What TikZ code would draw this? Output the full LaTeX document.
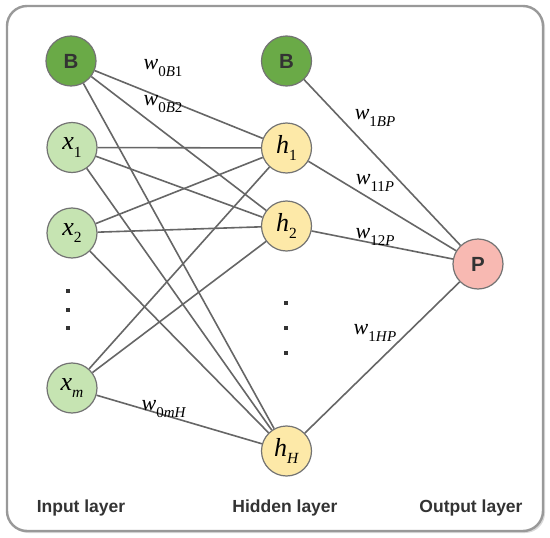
\documentclass[tikz,border=0pt]{standalone}
\usepackage{fontspec}
\setsansfont{Liberation Sans}
\newfontfamily\tms{Liberation Serif}
\newcommand\nlab[2]{{\tms\fontsize{26}{30}\selectfont\itshape #1\/\raisebox{-0.3em}{\upshape\fontsize{15.5}{18}\selectfont #2}}}
\newcommand\wl[1]{{\tms\fontsize{22}{26}\selectfont\itshape w\/\raisebox{-0.28em}{\upshape\fontsize{15}{18}\selectfont #1}}}
\newcommand\iB{\textit{B}}
\newcommand\iP{\textit{P}}
\newcommand\iH{\textit{H}}
\begin{document}
\begin{tikzpicture}[x=1pt,y=-1pt,
  neuron/.style={circle,minimum size=50pt,inner sep=0pt,draw=black!55,line width=1.2pt},
  biasn/.style={neuron,fill=biasgreen,font=\sffamily\bfseries\fontsize{20.5}{24}\selectfont,text=black!80},
  inn/.style={neuron,fill=ingreen},
  hidn/.style={neuron,fill=hidyellow},
  outn/.style={neuron,fill=outpink,font=\sffamily\bfseries\fontsize{20.5}{24}\selectfont,text=black!80},
  conn/.style={draw=black!60,line width=1.6pt},
  wlab/.style={inner sep=0pt},
  layerlab/.style={font=\sffamily\bfseries\fontsize{17.5}{20}\selectfont,text=black!80},
  dotm/.style={fill=black!80,minimum size=4pt,inner sep=0pt}
]
\definecolor{biasgreen}{HTML}{6AAA47}
\definecolor{ingreen}{HTML}{C6E4B2}
\definecolor{hidyellow}{HTML}{FDE9A8}
\definecolor{outpink}{HTML}{F8B9B2}
\useasboundingbox (0,0) rectangle (550,538);
\fill[black!15,rounded corners=20pt] (8.5,7.5) rectangle (545,533);
\draw[black!40,line width=2.4pt,fill=white,rounded corners=20pt] (7,6) rectangle (543,531);

\node[biasn] (b0) at (71,61) {B};
\node[inn] (x1) at (72,147.5) {\nlab{x}{1}};
\node[inn] (x2) at (72,233) {\nlab{x}{2}};
\node[inn] (xm) at (72,388) {\nlab{x}{\textit{m}}};
\node[biasn] (b1) at (286.5,61) {B};
\node[hidn] (h1) at (286.5,148) {\nlab{h}{1}};
\node[hidn] (h2) at (286.5,226) {\nlab{h}{2}};
\node[hidn] (hH) at (286.5,451) {\nlab{h}{\textit{H}}};
\node[outn] (P) at (478,264) {P};

\foreach \s in {b0,x1,x2,xm}{
  \foreach \t in {h1,h2,hH}{
    \draw[conn] (\s) -- (\t);
  }
}
\foreach \s in {b1,h1,h2,hH}{
  \draw[conn] (\s) -- (P);
}

\node[wlab] (l1) at (163,68) {\wl{0\iB1}};
\node[wlab] (l2) at (163,104) {\wl{0\iB2}};
\node[wlab] (l3) at (375,118) {\wl{1\iB\iP}};
\node[wlab] (l4) at (375,183) {\wl{11\iP}};
\node[wlab] (l5) at (375,237) {\wl{12\iP}};
\node[wlab] (l6) at (375,333) {\wl{1\iH\iP}};
\node[wlab] (l7) at (164,409) {\wl{0\textit{m}\iH}};

\node[dotm] (d1) at (68,291) {};
\node[dotm] (d2) at (68,310) {};
\node[dotm] (d3) at (68,328) {};
\node[dotm] (d4) at (286,303) {};
\node[dotm] (d5) at (286,328) {};
\node[dotm] (d6) at (286,353) {};

\node[layerlab] (t1) at (81,508) {Input layer};
\node[layerlab] (t2) at (285,508) {Hidden layer};
\node[layerlab] (t3) at (471,508) {Output layer};
\end{tikzpicture}
\end{document}
